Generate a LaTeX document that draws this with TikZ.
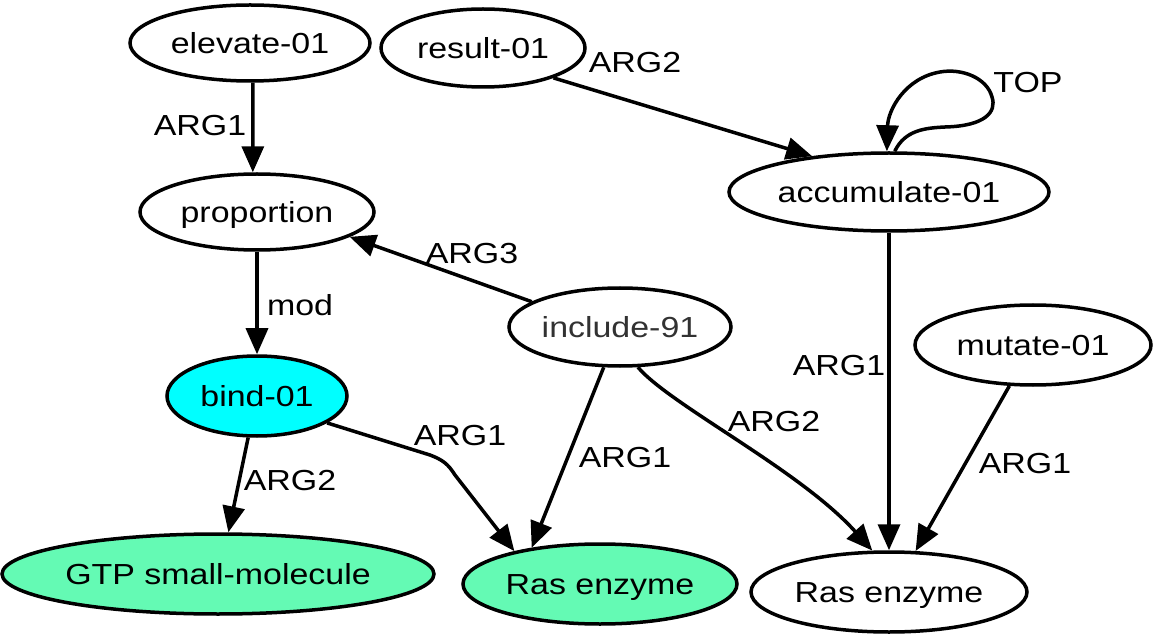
\documentclass[tikz,border=0pt]{standalone}
\usepackage{fontspec}
\setmainfont{Liberation Sans}[FakeStretch=1.17]
\usetikzlibrary{arrows.meta,shapes.geometric}
\definecolor{nodegreen}{RGB}{100,250,180}
\definecolor{nodecyan}{RGB}{0,255,255}
\definecolor{inctext}{RGB}{50,50,50}
\begin{document}
\begin{tikzpicture}[x=1pt,y=-1pt,
  every node/.style={font=\fontsize{29}{34}\selectfont, text height=21pt, text depth=0pt},
  amr/.style={draw, ellipse, line width=3.5pt, inner sep=0pt, fill=white},
  edge/.style={line width=3.5pt, -{Triangle[length=26pt,width=22pt]}},
  lbl/.style={inner sep=0pt}]
\useasboundingbox (0,0) rectangle (1154,636);
% nodes
\node[amr, minimum width=240pt, minimum height=76pt] (elevate) at (250,43) {elevate-01};
\node[amr, minimum width=204pt, minimum height=78pt] (result) at (483,48) {result-01};
\node[amr, minimum width=234pt, minimum height=76pt] (proportion) at (257,212) {proportion};
\node[amr, minimum width=320pt, minimum height=78pt] (accumulate) at (889,192) {accumulate-01};
\node[amr, minimum width=222pt, minimum height=78pt, text=inctext] (include) at (620,327) {include-91};
\node[amr, minimum width=236pt, minimum height=80pt] (mutate) at (1033,345) {mutate-01};
\node[amr, fill=nodecyan, minimum width=180pt, minimum height=80pt] (bind) at (257,396) {bind-01};
\node[amr, fill=nodegreen, minimum width=430pt, minimum height=80pt] (gtp) at (218,574) {GTP small-molecule};
\node[amr, fill=nodegreen, minimum width=274pt, minimum height=80pt] (rasg) at (600,584) {Ras enzyme};
\node[amr, minimum width=276pt, minimum height=80pt] (rasw) at (889,592) {Ras enzyme};
% edges
\draw[edge] (elevate.-86) -- (proportion.96);
\draw[edge] (result.-23.5) -- (accumulate.155.7);
\draw[edge] (accumulate.82) .. controls (905,130) and (925,128) .. (945,127)
  .. controls (985,126) and (997,112) .. (992,97)
  .. controls (987,78) and (962,68) .. (940,72)
  .. controls (905,78) and (888,110) .. (accumulate.93);
\draw[edge] (include.164.5) -- (proportion.-15.7);
\draw[edge] (proportion.south) -- (bind.north);
\draw[edge] (accumulate.south) -- (rasw.north);
\draw[edge] (include.-112.5) -- (rasg.152);
\draw[edge] (include.-66) .. controls (670,405) and (800,470) .. (rasw.112);
\draw[edge] (mutate.-120) -- (rasw.57.5);
\draw[edge] (bind.-21) -- (430,455) .. controls (443,460) and (448,464) .. (455,475) -- (rasg.159);
\draw[edge] (bind.-102.4) -- (gtp.76);
% labels
\node[lbl] (l1) at (200,125) {ARG1};
\node[lbl] (l2) at (635,62) {ARG2};
\node[lbl] (l3) at (1028,82) {TOP};
\node[lbl] (l4) at (472,253) {ARG3};
\node[lbl] (l5) at (300,305) {mod};
\node[lbl] (l6) at (839,365) {ARG1};
\node[lbl] (l7) at (460,435) {ARG1};
\node[lbl] (l8) at (774,421) {ARG2};
\node[lbl] (l9) at (625,457) {ARG1};
\node[lbl] (l10) at (1025,463) {ARG1};
\node[lbl] (l11) at (290,480) {ARG2};
\end{tikzpicture}
\end{document}
